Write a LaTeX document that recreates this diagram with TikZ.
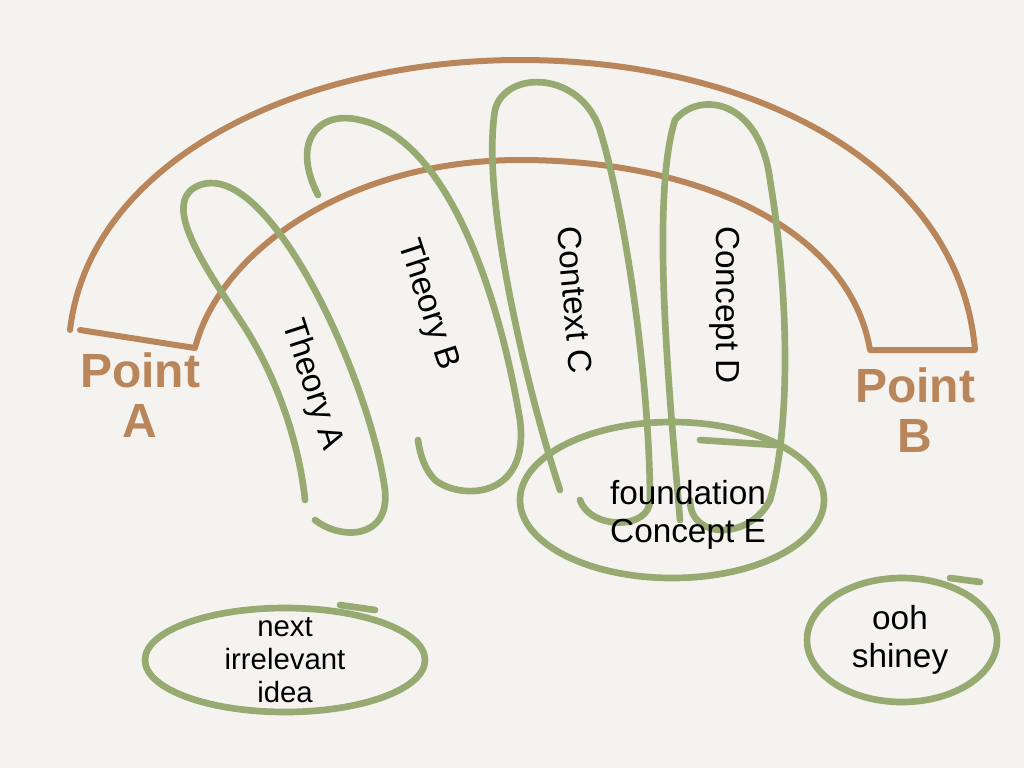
\documentclass[tikz,border=0pt]{standalone}
\usepackage{fontspec}
\setmainfont{Liberation Sans}
\definecolor{bg}{HTML}{F5F3EF}
\definecolor{br}{HTML}{B9855A}
\definecolor{gr}{HTML}{97AA72}
\begin{document}
\begin{tikzpicture}[x=0.75pt,y=-0.75pt,
  brl/.style={draw=br,line width=4.5pt,line cap=round,line join=round},
  grl/.style={draw=gr,line width=5pt,line cap=round,line join=round},
  lab/.style={font=\fontsize{25}{28}\selectfont,text=black},
  pt/.style={font=\bfseries\fontsize{36}{38}\selectfont,text=br,align=center}]
\fill[bg] (0,0) rectangle (1024,768);
\useasboundingbox (0,0) rectangle (1024,768);
% brown arch
\draw[brl] (70,330) .. controls (90,160) and (300,60) .. (520,60)
  .. controls (760,60) and (960,170) .. (975,350) -- (870,350)
  .. controls (850,230) and (700,160) .. (520,160)
  .. controls (350,160) and (220,250) .. (195,348) -- (80,330);
\node[pt] (pa) at (140,395) {Point\\A};
\node[pt] (pb) at (915,410) {Point\\B};
% loops
\draw[grl] (315,520) .. controls (340,540) and (390,540) .. (385,490)
  .. controls (370,380) and (270,160) .. (200,185)
  .. controls (160,200) and (200,260) .. (240,320)
  .. controls (280,380) and (300,450) .. (305,500);
\draw[grl] (318,195) .. controls (290,140) and (320,110) .. (360,120)
  .. controls (450,140) and (500,300) .. (520,420)
  .. controls (530,500) and (460,500) .. (435,480)
  .. controls (425,470) and (420,455) .. (418,440);
\draw[grl] (560,490) .. controls (530,400) and (480,200) .. (495,110)
  .. controls (505,70) and (580,70) .. (600,130)
  .. controls (630,230) and (650,400) .. (650,500)
  .. controls (650,530) and (590,530) .. (580,500);
\draw[grl] (680,520) .. controls (670,400) and (650,200) .. (675,120)
  .. controls (700,90) and (760,100) .. (770,180)
  .. controls (790,300) and (790,430) .. (770,500)
  .. controls (750,540) and (690,540) .. (690,500);
\draw[grl] (700,440) -- (775,445);
\draw[grl] (672,500) ellipse [x radius=152, y radius=78];
\draw[grl] (285,660) ellipse [x radius=140, y radius=52];
\draw[grl] (902,640) ellipse [x radius=95, y radius=62];
\draw[grl] (340,605) -- (375,610);
\draw[grl] (950,578) -- (980,582);
% labels
\node[lab,rotate=-72] (ta) at (312,385) {Theory A};
\node[lab,rotate=-72] (tb) at (428,305) {Theory B};
\node[lab,rotate=-85] (cc) at (575,300) {Context C};
\node[lab,rotate=-90] (cd) at (725,305) {Concept D};
\node[lab,align=center] (fe) at (688,515) {foundation\\Concept E};
\node[lab,align=center,font=\fontsize{22}{25}\selectfont] (ni) at (285,660) {next\\irrelevant\\idea};
\node[lab,align=center] (os) at (900,640) {ooh\\shiney};
\end{tikzpicture}
\end{document}
